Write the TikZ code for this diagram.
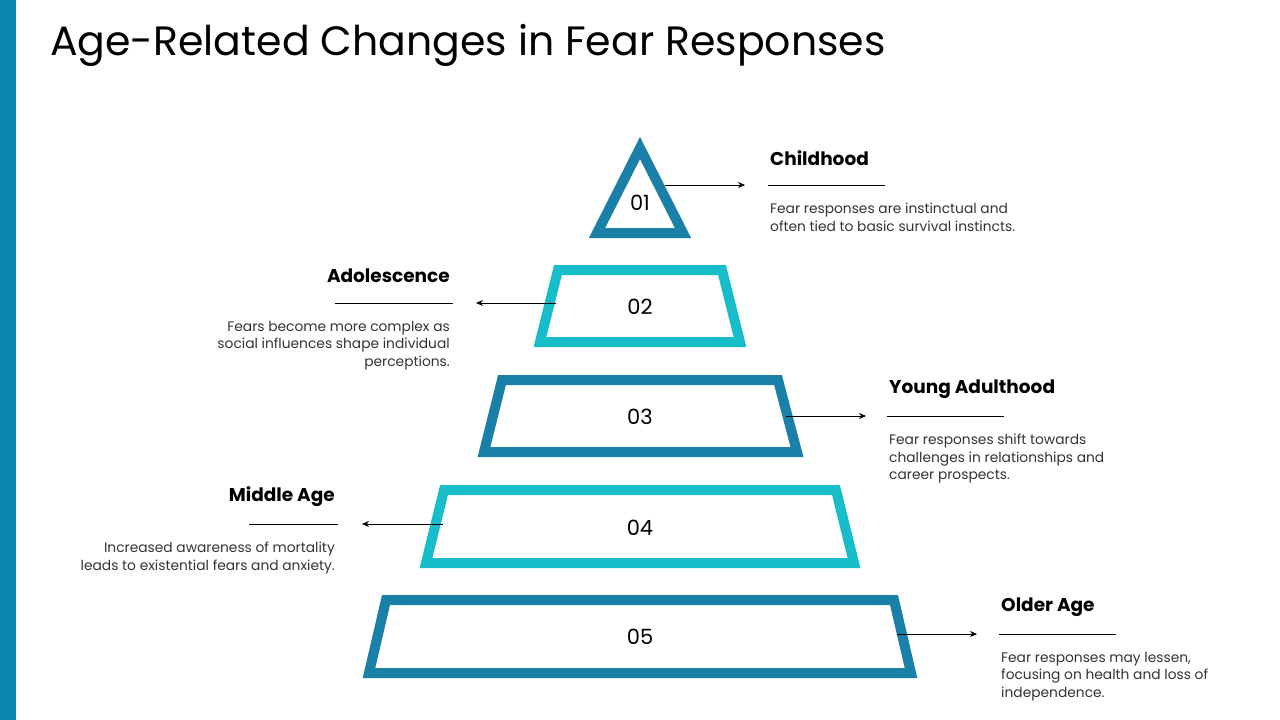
\documentclass[tikz,border=0pt]{standalone}
\usepackage{fontspec}
\setmainfont{Poppins}
\usetikzlibrary{arrows.meta}
\definecolor{darkteal}{HTML}{1A80A8}
\definecolor{lightteal}{HTML}{17BEC9}
\definecolor{barteal}{HTML}{0A86AE}
\tikzset{
  level/.style={line width=10pt,line join=miter},
  num/.style={font=\fontsize{21}{24}\selectfont},
  head/.style={font=\fontsize{18.5}{22}\selectfont\bfseries,inner sep=0pt},
  desc/.style={font=\fontsize{13.8}{17.5}\selectfont,inner sep=0pt,text=black!80},
  pointer/.style={-{Stealth[length=7pt,width=6pt]},line width=0.7pt},
  rule/.style={line width=0.7pt}
}
\begin{document}
\begin{tikzpicture}[x=1pt,y=-1pt]
\useasboundingbox (0,0) rectangle (1280,720);
\fill[barteal] (0,0) rectangle (16,720);
\node[anchor=west,inner sep=0pt,font=\fontsize{41}{44}\selectfont] (title) at (50,45) {Age-Related Changes in Fear Responses};
%pyramid
\draw[level,darkteal] (640,148) -- (683,233) -- (597,233) -- cycle;
\draw[level,lightteal] (558,270) -- (722,270) -- (740,342) -- (540,342) -- cycle;
\draw[level,darkteal] (502,380) -- (778,380) -- (797,452) -- (484,452) -- cycle;
\draw[level,lightteal] (444,490) -- (836,490) -- (854,563) -- (426,563) -- cycle;
\draw[level,darkteal] (386,600) -- (894,600) -- (911,673) -- (369,673) -- cycle;
\node[num] (n1) at (640,203) {01};
\node[num] (n2) at (640,307) {02};
\node[num] (n3) at (640,417) {03};
\node[num] (n4) at (640,528) {04};
\node[num] (n5) at (640,637) {05};
%arrows
\coordinate (a1) at (665,185); \coordinate (b1) at (745,185);
\coordinate (a2) at (556,303); \coordinate (b2) at (476,303);
\coordinate (a3) at (786,416); \coordinate (b3) at (866,416);
\coordinate (a4) at (443,524); \coordinate (b4) at (362,524);
\coordinate (a5) at (897,634); \coordinate (b5) at (977,634);
\foreach \i in {1,...,5} \draw[pointer] (a\i) -- (b\i);
%Childhood
\node[head,anchor=west] (h1) at (770,158) {Childhood};
\draw[rule] (768,185) -- (885,185);
\node[desc,anchor=north west,align=left] (d1) at (770,203) {Fear responses are instinctual and\\often tied to basic survival instincts.};
%Adolescence
\node[head,anchor=east] (h2) at (450,276) {Adolescence};
\draw[rule] (335,303) -- (453,303);
\node[desc,anchor=north east,align=right] (d2) at (450,321) {Fears become more complex as\\social influences shape individual\\perceptions.};
%Young Adulthood
\node[head,anchor=west] (h3) at (889,389) {Young Adulthood};
\draw[rule] (887,416) -- (1004,416);
\node[desc,anchor=north west,align=left] (d3) at (889,434) {Fear responses shift towards\\challenges in relationships and\\career prospects.};
%Middle Age
\node[head,anchor=east] (h4) at (335,497) {Middle Age};
\draw[rule] (249,524) -- (338,524);
\node[desc,anchor=north east,align=right] (d4) at (335,542) {Increased awareness of mortality\\leads to existential fears and anxiety.};
%Older Age
\node[head,anchor=west] (h5) at (1001,607) {Older Age};
\draw[rule] (999,634) -- (1116,634);
\node[desc,anchor=north west,align=left] (d5) at (1001,652) {Fear responses may lessen,\\focusing on health and loss of\\independence.};
\end{tikzpicture}
\end{document}
